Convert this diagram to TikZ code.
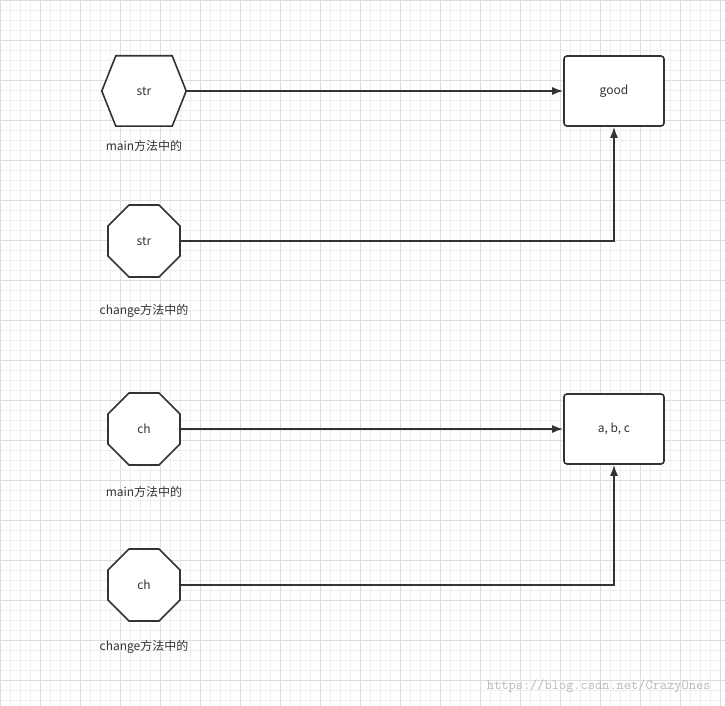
\documentclass[tikz,border=0pt]{standalone}
\usepackage{fontspec}
\setmainfont{Noto Sans CJK SC}
\usetikzlibrary{shapes.geometric,arrows.meta}
\definecolor{gminor}{HTML}{EEEEEE}
\definecolor{gmajor}{HTML}{DDDDDD}
\definecolor{txt}{HTML}{333333}
\tikzset{
  oct/.style={regular polygon,regular polygon sides=8,minimum size=78pt,draw=txt,line width=1.6pt,fill=white,inner sep=0pt,font=\fontsize{12pt}{14pt}\selectfont,text=txt},
  box/.style={rectangle,rounded corners=3pt,draw=txt,line width=1.6pt,fill=white,minimum width=100pt,minimum height=70pt,font=\fontsize{12pt}{14pt}\selectfont,text=txt},
  lbl/.style={font=\fontsize{12pt}{14pt}\selectfont,text=txt},
  conn/.style={draw=txt,line width=1.6pt,-{Latex[length=11pt,width=8pt]}}
}
\begin{document}
\begin{tikzpicture}[x=1pt,y=-1pt]
\useasboundingbox (0,0) rectangle (725,706);
\fill[white] (0,0) rectangle (725,706);
\draw[gminor,line width=0.6pt] (0,0) grid[step=10pt] (725,706);
\draw[gmajor,line width=0.8pt] (0,0) grid[step=40pt] (725,706);
% hexagon
\node[minimum width=84pt,minimum height=70pt,inner sep=0pt,lbl] (s1) at (144,91) {str};
\draw[txt,line width=1.6pt,fill=white] (s1.west) -- ([xshift=14pt]s1.north west) -- ([xshift=-14pt]s1.north east) -- (s1.east) -- ([xshift=-14pt]s1.south east) -- ([xshift=14pt]s1.south west) -- cycle;
\node[lbl] at (s1) {str};
\node[oct] (s2) at (144,241) {str};
\node[oct] (c1) at (144,429) {ch};
\node[oct] (c2) at (144,585) {ch};
\node[box] (good) at (614,91) {good};
\node[box] (abc) at (614,429) {a, b, c};
\node[lbl] (l1) at (144,146) {main方法中的};
\node[lbl] (l2) at (144,311) {change方法中的};
\node[lbl] (l3) at (144,492) {main方法中的};
\node[lbl] (l4) at (144,647) {change方法中的};
\draw[conn] (s1.east) -- (good.west);
\draw[conn] (s2.east) -| (good.south);
\draw[conn] (c1.east) -- (abc.west);
\draw[conn] (c2.east) -| (abc.south);
\node[font=\fontsize{14pt}{16pt}\selectfont\ttfamily,text=gray!55,anchor=east] (wm) at (714,686) {https://blog.csdn.net/CrazyOnes};
\end{tikzpicture}
\end{document}
